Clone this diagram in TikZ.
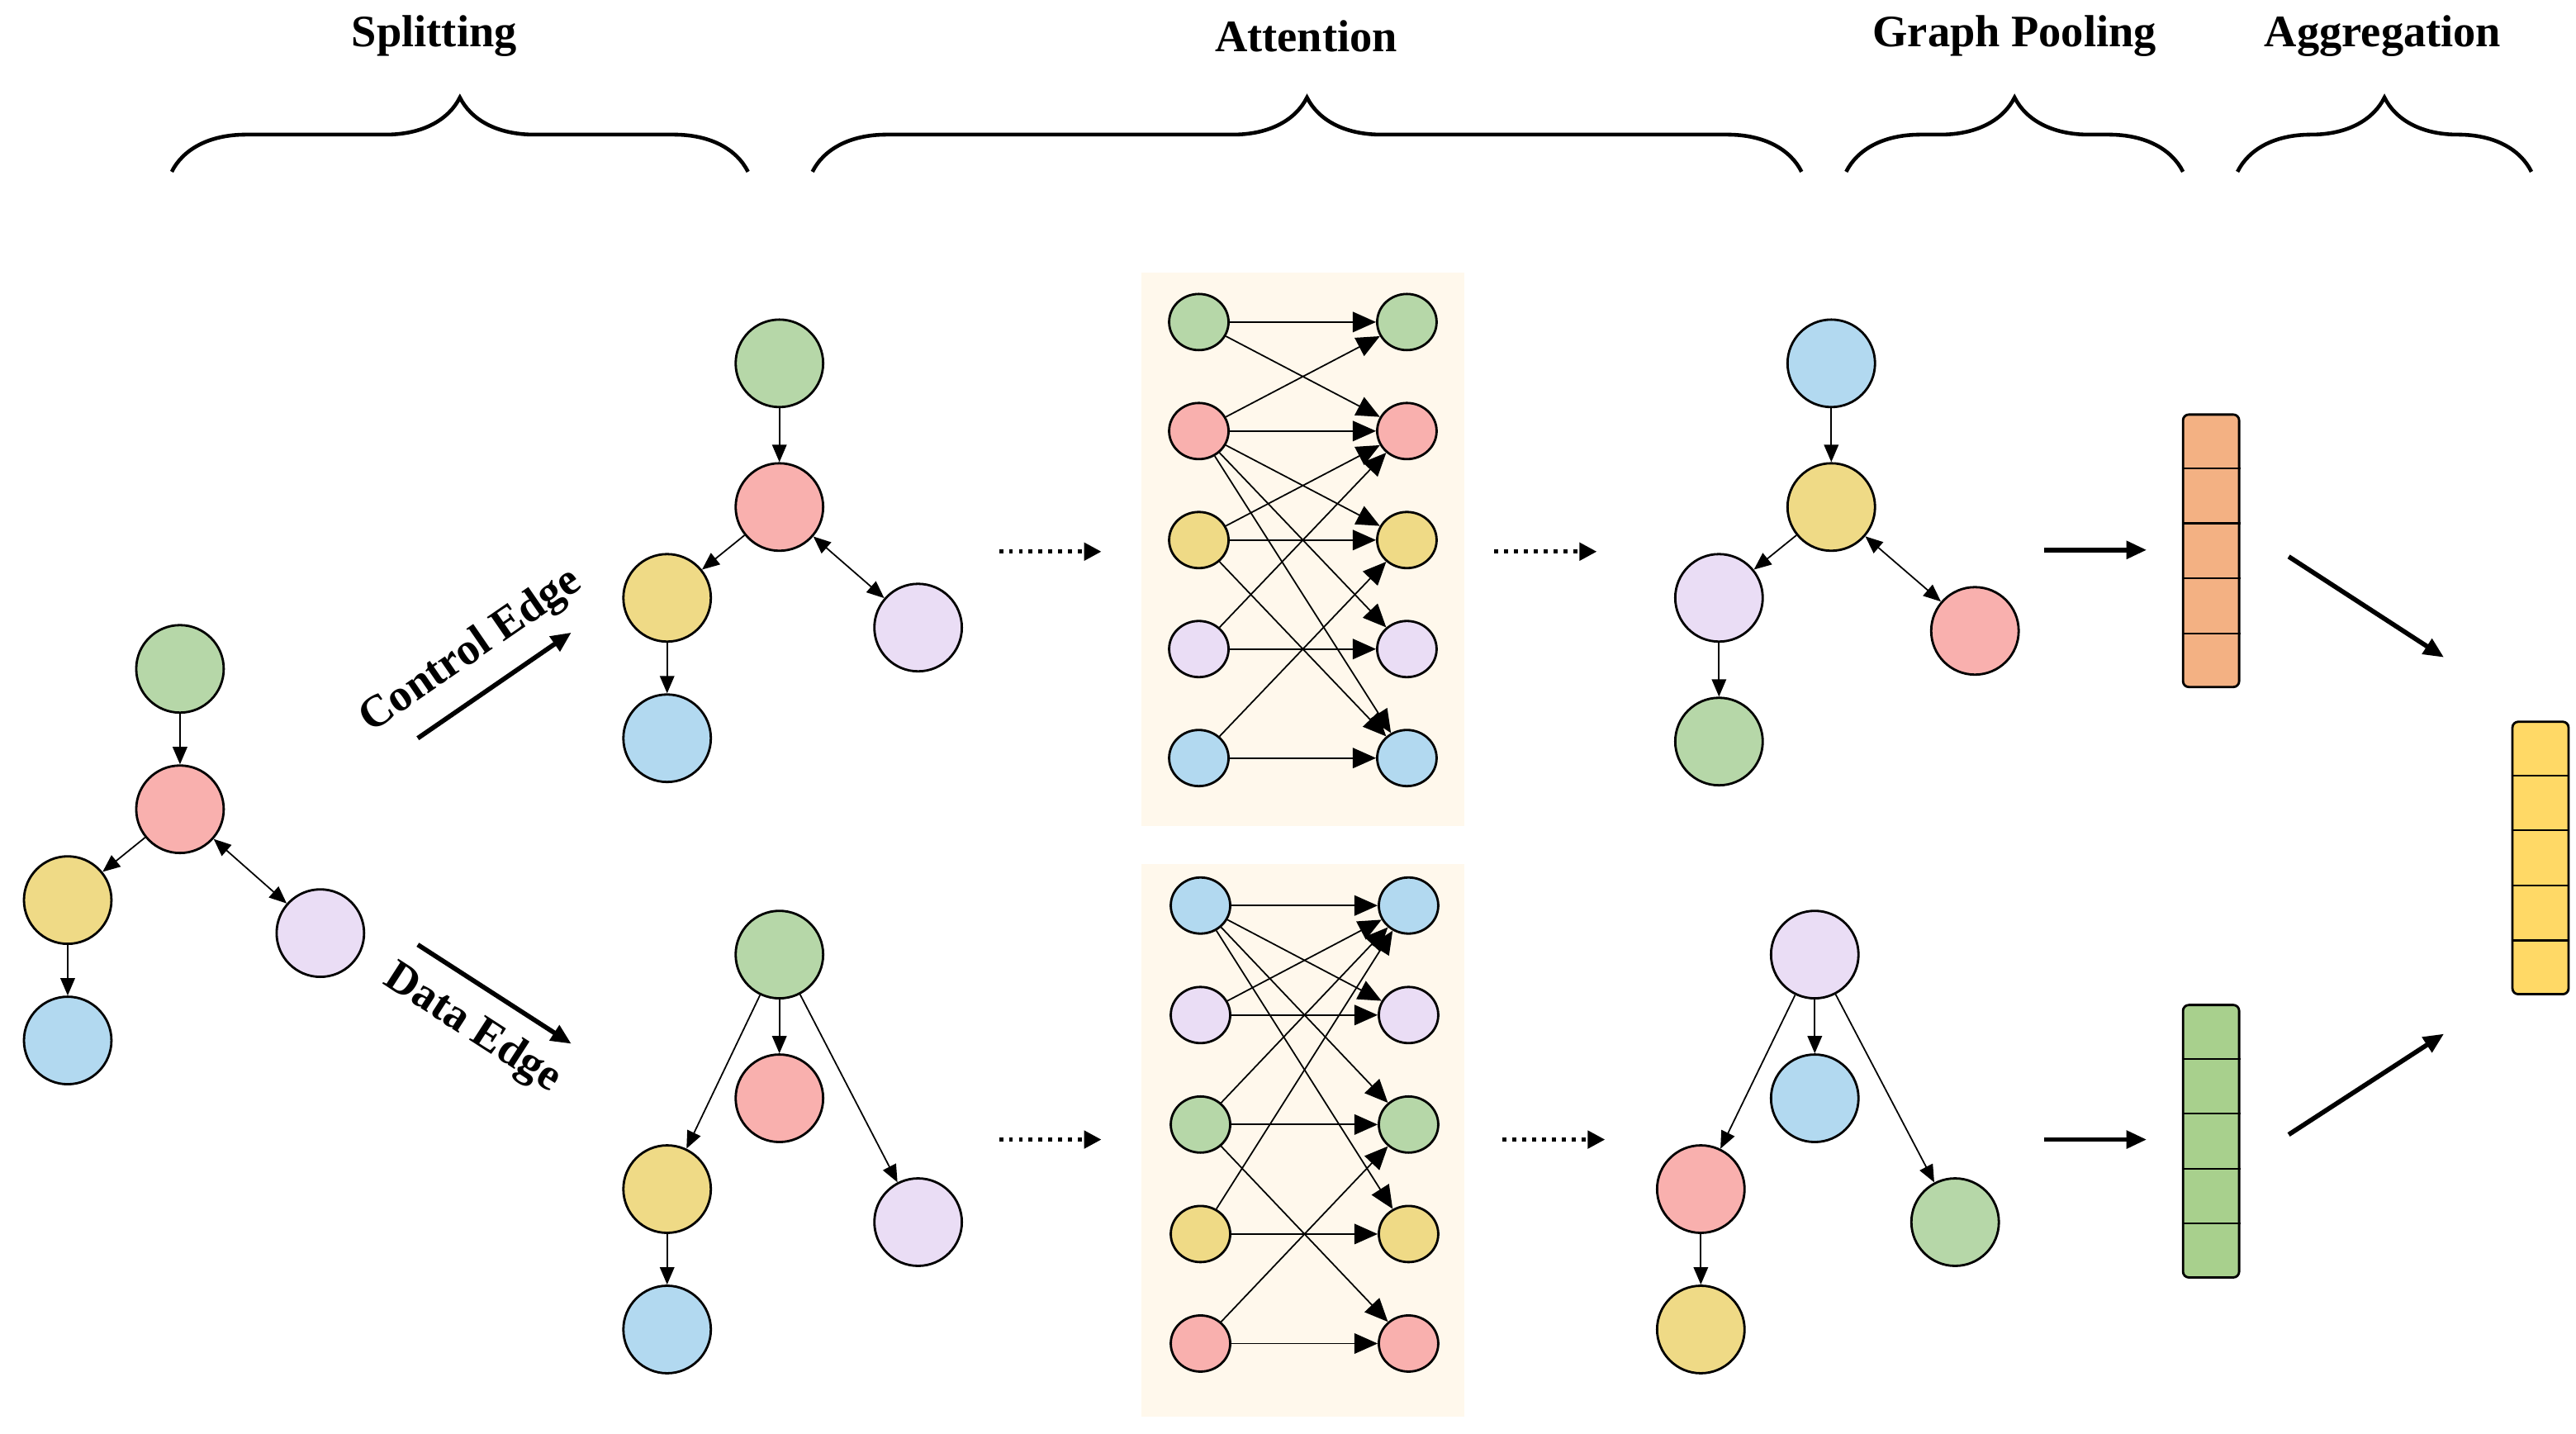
\documentclass[tikz,border=0pt]{standalone}
\usepackage{fontspec}
\setmainfont{Liberation Serif}
\usetikzlibrary{arrows.meta,decorations.pathreplacing,shapes.geometric,calc}
\definecolor{cg}{HTML}{B6D7A8}
\definecolor{cr}{HTML}{F9B0AE}
\definecolor{cy}{HTML}{EFDA86}
\definecolor{cp}{HTML}{EADDF5}
\definecolor{cb}{HTML}{B2D9F0}
\definecolor{bgatt}{HTML}{FFF8EC}
\definecolor{barO}{HTML}{F3B183}
\definecolor{barG}{HTML}{A8D08D}
\definecolor{barY}{HTML}{FFD966}
\tikzset{
  gn/.style={circle,draw,line width=0.8pt,minimum size=1.06cm,inner sep=0pt,fill=#1},
  an/.style={ellipse,draw,line width=0.8pt,minimum width=0.72cm,minimum height=0.68cm,inner sep=0pt,fill=#1},
  e/.style={-{Triangle[length=6pt,width=5pt]},line width=0.5pt},
  be/.style={{Triangle[length=6pt,width=5pt]}-{Triangle[length=6pt,width=5pt]},line width=0.5pt},
  ae/.style={-{Triangle[length=8pt,width=7pt]},line width=0.5pt},
  dot/.style={-{Triangle[length=6pt,width=6pt]},line width=1.4pt,dotted},
  tarr/.style={-{Triangle[length=7pt,width=6pt]},line width=1.6pt},
  br/.style={decorate,decoration={brace,amplitude=0.9cm},line width=1.3pt},
  ttl/.style={font=\fontsize{15.5}{18}\selectfont\bfseries},
  bar/.style={draw,rounded corners=2pt,line width=0.8pt,minimum width=0.68cm,minimum height=3.3cm,inner sep=0pt,fill=#1}
}
\begin{document}
\begin{tikzpicture}[x=0.02cm,y=-0.02cm]
\useasboundingbox (0,0) rectangle (1560,868);
% titles and braces
\node[ttl] (t1) at (263,22) {Splitting};
\node[ttl] (t2) at (791,22) {Attention};
\node[ttl] (t3) at (1220,22) {Graph Pooling};
\node[ttl] (t4) at (1443,22) {Aggregation};
\draw[br] (104,104) -- (453,104);
\draw[br] (492,104) -- (1091,104);
\draw[br] (1118,104) -- (1322,104);
\draw[br] (1355,104) -- (1533,104);
% input graph
\node[gn=cg] (a1) at (109,405) {};
\node[gn=cr] (a2) at (109,490) {};
\node[gn=cy] (a3) at (41,545) {};
\node[gn=cp] (a4) at (194,565) {};
\node[gn=cb] (a5) at (41,630) {};
\draw[e] (a1) -- (a2); \draw[e] (a2) -- (a3); \draw[be] (a2) -- (a4); \draw[e] (a3) -- (a5);
% control edge graph
\node[gn=cg] (b1) at (472,220) {};
\node[gn=cr] (b2) at (472,307) {};
\node[gn=cy] (b3) at (404,362) {};
\node[gn=cp] (b4) at (556,380) {};
\node[gn=cb] (b5) at (404,447) {};
\draw[e] (b1) -- (b2); \draw[e] (b2) -- (b3); \draw[be] (b2) -- (b4); \draw[e] (b3) -- (b5);
% data edge graph
\node[gn=cg] (c1) at (472,578) {};
\node[gn=cr] (c2) at (472,665) {};
\node[gn=cy] (c3) at (404,720) {};
\node[gn=cp] (c4) at (556,740) {};
\node[gn=cb] (c5) at (404,805) {};
\draw[e] (c1) -- (c2); \draw[e] (c1) -- (c3); \draw[e] (c1) -- (c4); \draw[e] (c3) -- (c5);
% split arrows
\coordinate (s1) at (253,447); \coordinate (s2) at (346,383);
\coordinate (s3) at (253,572); \coordinate (s4) at (346,632);
\draw[tarr] (s1) -- node[sloped,above=3pt,ttl]{Control Edge} (s2);
\draw[tarr] (s3) -- node[sloped,below=3pt,ttl]{Data Edge} (s4);
% attention blocks
\fill[bgatt] (691,165) rectangle (887,500);
\fill[bgatt] (691,523) rectangle (887,858);
\foreach \c [count=\i] in {cg,cr,cy,cp,cb}{
  \node[an=\c] (p\i) at (726,129+66*\i) {};
  \node[an=\c] (q\i) at (852,129+66*\i) {};
}
\foreach \c [count=\i] in {cb,cp,cg,cy,cr}{
  \node[an=\c] (u\i) at (727,482+66.3*\i) {};
  \node[an=\c] (v\i) at (853,482+66.3*\i) {};
}
\foreach \s/\t in {1/1,1/2,2/1,2/2,2/3,2/4,2/5,3/2,3/3,3/5,4/2,4/4,5/3,5/5}
  \draw[ae] (p\s) -- (q\t);
\foreach \s/\t in {1/1,1/2,1/3,1/4,2/1,2/2,3/1,3/3,3/5,4/1,4/4,5/3,5/5}
  \draw[ae] (u\s) -- (v\t);
% dotted arrows
\coordinate (d1) at (605,334); \coordinate (d2) at (667,334);
\coordinate (d3) at (905,334); \coordinate (d4) at (967,334);
\coordinate (d5) at (605,690); \coordinate (d6) at (667,690);
\coordinate (d7) at (910,690); \coordinate (d8) at (972,690);
\draw[dot] (d1) -- (d2); \draw[dot] (d3) -- (d4);
\draw[dot] (d5) -- (d6); \draw[dot] (d7) -- (d8);
% output graphs
\node[gn=cb] (f1) at (1109,220) {};
\node[gn=cy] (f2) at (1109,307) {};
\node[gn=cp] (f3) at (1041,362) {};
\node[gn=cr] (f4) at (1196,382) {};
\node[gn=cg] (f5) at (1041,449) {};
\draw[e] (f1) -- (f2); \draw[e] (f2) -- (f3); \draw[be] (f2) -- (f4); \draw[e] (f3) -- (f5);
\node[gn=cp] (g1) at (1099,578) {};
\node[gn=cb] (g2) at (1099,665) {};
\node[gn=cr] (g3) at (1030,720) {};
\node[gn=cg] (g4) at (1184,740) {};
\node[gn=cy] (g5) at (1030,805) {};
\draw[e] (g1) -- (g2); \draw[e] (g1) -- (g3); \draw[e] (g1) -- (g4); \draw[e] (g3) -- (g5);
% pooled vectors
\node[bar=barO] (h1) at (1339,333.5) {};
\node[bar=barG] (h2) at (1339,691) {};
\node[bar=barY] (h3) at (1538.5,519.5) {};
\foreach \n in {h1,h2,h3}
  \foreach \k in {1,2,3,4}
    \draw[line width=0.6pt] ($(\n.north west)!\k/5!(\n.south west)$) -- ($(\n.north east)!\k/5!(\n.south east)$);
% pooling and aggregation arrows
\coordinate (k1) at (1238,333); \coordinate (k2) at (1300,333);
\coordinate (k3) at (1238,690); \coordinate (k4) at (1300,690);
\coordinate (k5) at (1386,337); \coordinate (k6) at (1480,398);
\coordinate (k7) at (1386,687); \coordinate (k8) at (1480,626);
\draw[tarr] (k1) -- (k2); \draw[tarr] (k3) -- (k4);
\draw[tarr] (k5) -- (k6); \draw[tarr] (k7) -- (k8);
\end{tikzpicture}
\end{document}
